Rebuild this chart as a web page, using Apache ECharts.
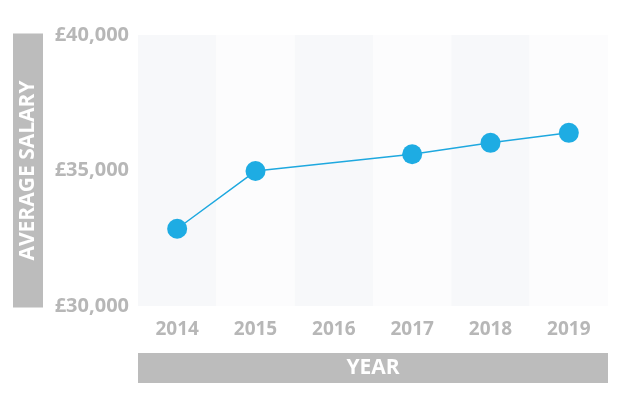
<!DOCTYPE html>
<html>
<head>
<meta charset="utf-8">
<script src="https://cdn.jsdelivr.net/npm/echarts@6/dist/echarts.min.js"></script>
<style>html,body{margin:0;padding:0;background:#fff;}#c{width:620px;height:413px;}</style>
</head>
<body>
<div id="c"></div>
<script>
var years = ['2014', '2015', '2016', '2017', '2018', '2019'];
var salary = [32850, 34980, null, 35600, 36020, 36390];
var yTicks = [30000, 35000, 40000];

var chart = echarts.init(document.getElementById('c'));
var grey = '#b7b7b7';
chart.setOption({
  animation: false,
  backgroundColor: '#ffffff',
  grid: { left: 138, right: 12, top: 35, bottom: 107 },
  xAxis: {
    type: 'category',
    data: years,
    boundaryGap: true,
    axisLine: { show: false },
    axisTick: { show: false },
    axisLabel: { color: grey, fontFamily: 'Open Sans', fontWeight: 'bold', fontSize: 19, margin: 14 },
    splitLine: { show: false },
    splitArea: { show: true, areaStyle: { color: ['#f7f8fa', '#fcfcfd'] } },
    name: '{b|YEAR}',
    nameLocation: 'middle',
    nameGap: 47,
    nameTextStyle: {
      rich: {
        b: {
          color: '#ffffff', fontFamily: 'Open Sans', fontWeight: 'bold', fontSize: 21,
          backgroundColor: '#bcbcbc', width: 470, height: 30, lineHeight: 30, align: 'center', padding: 0
        }
      }
    }
  },
  yAxis: {
    type: 'value',
    min: yTicks[0],
    max: yTicks[yTicks.length - 1],
    interval: yTicks[1] - yTicks[0],
    axisLine: { show: false },
    axisTick: { show: false },
    axisLabel: {
      color: grey, fontFamily: 'Open Sans', fontWeight: 'bold', fontSize: 20, margin: 9,
      padding: [8, 0, 0, 0],
      formatter: function (v) { return '£' + v.toLocaleString('en-GB'); }
    },
    splitLine: { show: true, lineStyle: { color: '#ffffff', width: 2 } },
    name: '{b|AVERAGE SALARY}',
    nameLocation: 'middle',
    nameRotate: 90,
    nameGap: 95,
    nameTextStyle: {
      rich: {
        b: {
          color: '#ffffff', fontFamily: 'Open Sans', fontWeight: 'bold', fontSize: 21,
          backgroundColor: '#bcbcbc', width: 274, height: 30, lineHeight: 30, align: 'center', padding: 0
        }
      }
    }
  },
  series: [{
    type: 'line',
    data: salary,
    connectNulls: true,
    symbol: 'circle',
    symbolSize: 20,
    itemStyle: { color: '#1eace3' },
    lineStyle: { color: '#1ea8df', width: 1.5 }
  }]
});
</script>
</body>
</html>
